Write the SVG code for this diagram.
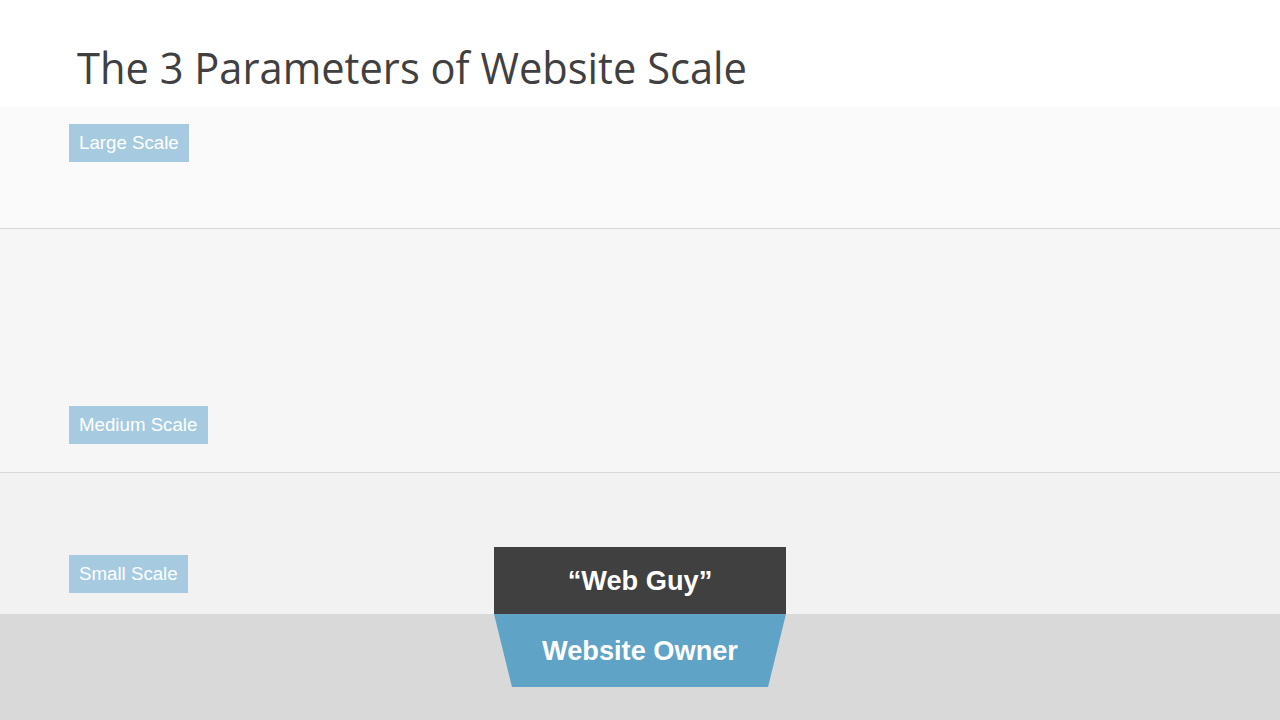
<svg xmlns="http://www.w3.org/2000/svg" width="1280" height="720" viewBox="0 0 1280 720">
<style>
.lbl{fill:#a6cadf}
.lt{font-family:"Liberation Sans",Arial,sans-serif;font-size:18.7px;fill:#ffffff}
.bt{font-family:"Liberation Sans",Arial,sans-serif;font-size:27.2px;font-weight:bold;fill:#ffffff;text-anchor:middle}
.sep{stroke:#d9d9d9;stroke-width:1}
</style>
<rect x="0" y="0" width="1280" height="720" fill="#ffffff"/>
<g id="bands">
<rect x="0" y="107" width="1280" height="121" fill="#fafafa"/>
<rect x="0" y="228" width="1280" height="244" fill="#f6f6f6"/>
<rect x="0" y="472" width="1280" height="142" fill="#f2f2f2"/>
<rect x="0" y="614" width="1280" height="106" fill="#d9d9d9"/>
<line class="sep" x1="0" y1="228.5" x2="1280" y2="228.5"/>
<line class="sep" x1="0" y1="472.5" x2="1280" y2="472.5"/>
</g>
<text id="title" x="77" y="84" font-family="'Open Sans','Liberation Sans',sans-serif" font-size="44" fill="#404040" textLength="670" lengthAdjust="spacingAndGlyphs">The 3 Parameters of Website Scale</text>
<g id="large">
<rect class="lbl" x="69" y="124" width="120" height="38"/>
<text class="lt" x="79" y="149">Large Scale</text>
</g>
<g id="medium">
<rect class="lbl" x="69" y="406" width="139" height="38"/>
<text class="lt" x="79" y="431">Medium Scale</text>
</g>
<g id="small">
<rect class="lbl" x="69" y="555" width="119" height="38"/>
<text class="lt" x="79" y="580">Small Scale</text>
</g>
<g id="webguy">
<rect x="494" y="547" width="292" height="67" fill="#404040"/>
<text class="bt" x="640" y="590">“Web Guy”</text>
</g>
<g id="owner">
<polygon points="494,614 786,614 768,687 512,687" fill="#5fa3c6"/>
<text class="bt" x="640" y="660">Website Owner</text>
</g>
<g id="connectors"/>
</svg>
